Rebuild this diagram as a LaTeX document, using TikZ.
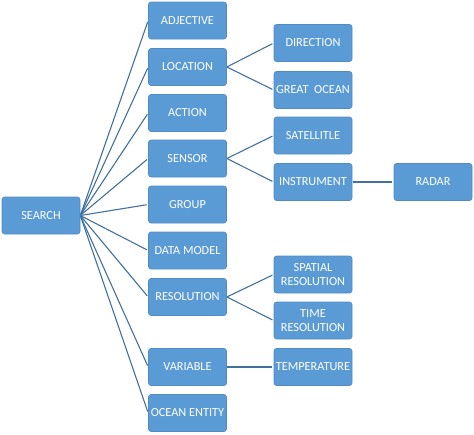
\documentclass[tikz,border=0pt]{standalone}
\usepackage{fontspec}
\setmainfont{Carlito}
\definecolor{boxfill}{HTML}{5B9BD5}
\definecolor{boxline}{HTML}{4F8CC7}
\definecolor{conn}{HTML}{41719C}
\begin{document}
\begin{tikzpicture}[x=1pt,y=-1pt,
  box/.style={draw=boxline,fill=boxfill,rounded corners=2.5pt,minimum width=78pt,minimum height=37pt,
    text=white,font=\fontsize{12.3}{13.5}\selectfont,align=center,inner sep=1pt,line width=0.6pt},
  link/.style={draw=conn,line width=1.1pt,shorten >=1.5pt,shorten <=0.5pt}]
\useasboundingbox (0,0) rectangle (474,434);
\node[box] (search) at (41,215.5) {SEARCH};
\node[box] (adj) at (187.5,20.5) {ADJECTIVE};
\node[box] (loc) at (187.5,67) {LOCATION};
\node[box] (act) at (187.5,113) {ACTION};
\node[box] (sen) at (187.5,158.5) {SENSOR};
\node[box] (grp) at (187.5,204.5) {GROUP};
\node[box] (dm) at (187.5,250.5) {DATA MODEL};
\node[box] (res) at (187.5,297) {RESOLUTION};
\node[box] (var) at (187.5,367) {VARIABLE};
\node[box] (oce) at (187.5,413) {OCEAN ENTITY};
\node[box] (dir) at (313,43) {DIRECTION};
\node[box] (gre) at (313,90) {GREAT\ \ OCEAN};
\node[box] (sat) at (313,135.5) {SATELLITLE};
\node[box] (ins) at (313,182) {INSTRUMENT};
\node[box] (rad) at (433,182) {RADAR};
\node[box] (spa) at (313,274.5) {SPATIAL\\RESOLUTION};
\node[box] (tim) at (313,320.5) {TIME\\RESOLUTION};
\node[box] (tem) at (313,367) {TEMPERATURE};
\foreach \n in {adj,loc,act,sen,grp,dm,res,var,oce}
  \draw[link] (search.east) -- (\n.west);
\draw[link] (loc.east) -- (dir.west);
\draw[link] (loc.east) -- (gre.west);
\draw[link] (sen.east) -- (sat.west);
\draw[link] (sen.east) -- (ins.west);
\draw[link] (res.east) -- (spa.west);
\draw[link] (res.east) -- (tim.west);
\draw[link] (ins.east) -- (rad.west);
\draw[link] (var.east) -- (tem.west);
\end{tikzpicture}
\end{document}
